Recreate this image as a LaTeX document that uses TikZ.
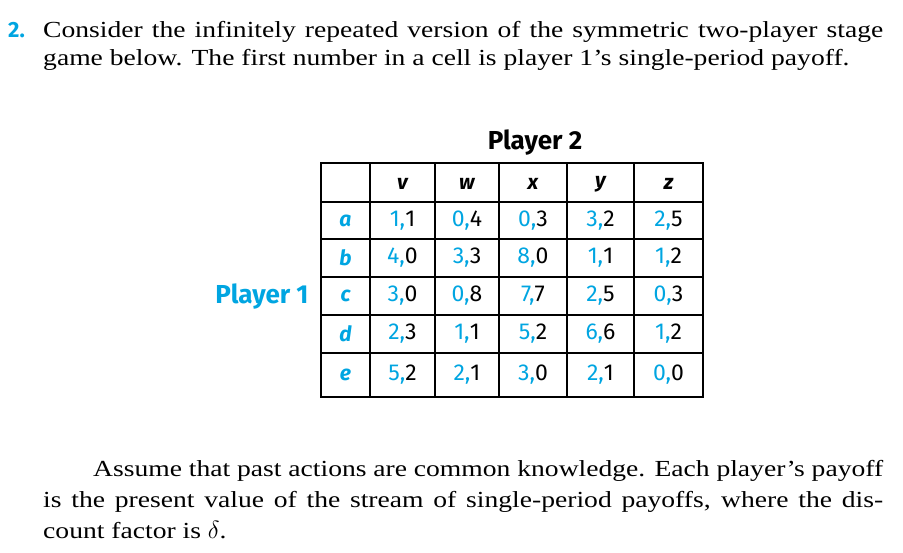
\documentclass[tikz,border=0pt]{standalone}
\usepackage{fontspec}
\setmainfont[FakeStretch=1.2]{Liberation Serif}
\newfontfamily\tabfont{Fira Sans}
\definecolor{cb}{RGB}{0,165,225}
\begin{document}
\begin{tikzpicture}[x=1pt,y=-1pt,
  txt/.style={anchor=base west,inner sep=0pt,font=\fontsize{23}{27}\selectfont},
  cell/.style={inner sep=0pt,font=\tabfont\fontsize{23}{26}\selectfont},
  hd/.style={inner sep=0pt,font=\tabfont\bfseries\itshape\fontsize{21}{24}\selectfont},
  rl/.style={hd,text=cb}]
\useasboundingbox (0,0) rectangle (903,553);
\node[txt,font=\tabfont\bfseries\fontsize{22}{26}\selectfont,text=cb] (num) at (8,38) {2.};
\node[txt] (l1) at (43,38) {\makebox[840pt][s]{Consider the infinitely repeated version of the symmetric two-player stage}};
\node[txt] (l2) at (43,66) {game below. The first number in a cell is player 1’s single-period payoff.};
\node[txt] (l3) at (93,476) {\makebox[790pt][s]{Assume that past actions are common knowledge. Each player’s payoff}};
\node[txt] (l4) at (43,507) {\makebox[840pt][s]{is the present value of the stream of single-period payoffs, where the dis-}};
\node[txt] (l5) at (43,538) {count factor is $\delta$.};
% table
\draw[line width=2.2pt] (321,163) rectangle (703,397);
\foreach \x in {370,435,499,567,634} \draw[line width=1.3pt] (\x,163) -- (\x,397);
\foreach \y in {202,239,277,315,353} \draw[line width=1.3pt] (321,\y) -- (703,\y);
\node[inner sep=0pt,font=\tabfont\bfseries\fontsize{26}{30}\selectfont] (p2) at (535,143) {Player 2};
\node[inner sep=0pt,font=\tabfont\bfseries\fontsize{26}{30}\selectfont,text=cb] (p1) at (262,297) {Player 1};
\def\xs{{402.5,467,533,600.5,668.5}}
\def\ys{{220.5,258,296,334,375}}
\foreach \c [count=\i from 0] in {v,w,x,y,z}
  \node[hd] (h\i) at ({\xs[\i]},184) {\c};
\foreach \r [count=\j from 0] in {a,b,c,d,e}
  \node[rl] (r\j) at (345.5,{\ys[\j]}) {\r};
\foreach \row [count=\j from 0] in {{1/1,0/4,0/3,3/2,2/5},{4/0,3/3,8/0,1/1,1/2},{3/0,0/8,7/7,2/5,0/3},{2/3,1/1,5/2,6/6,1/2},{5/2,2/1,3/0,2/1,0/0}}{
  \foreach \p/\q [count=\i from 0] in \row
    \node[cell] (c\i\j) at ({\xs[\i]},{\ys[\j]}) {\textcolor{cb}{\p,}\q};
}
\end{tikzpicture}
\end{document}
